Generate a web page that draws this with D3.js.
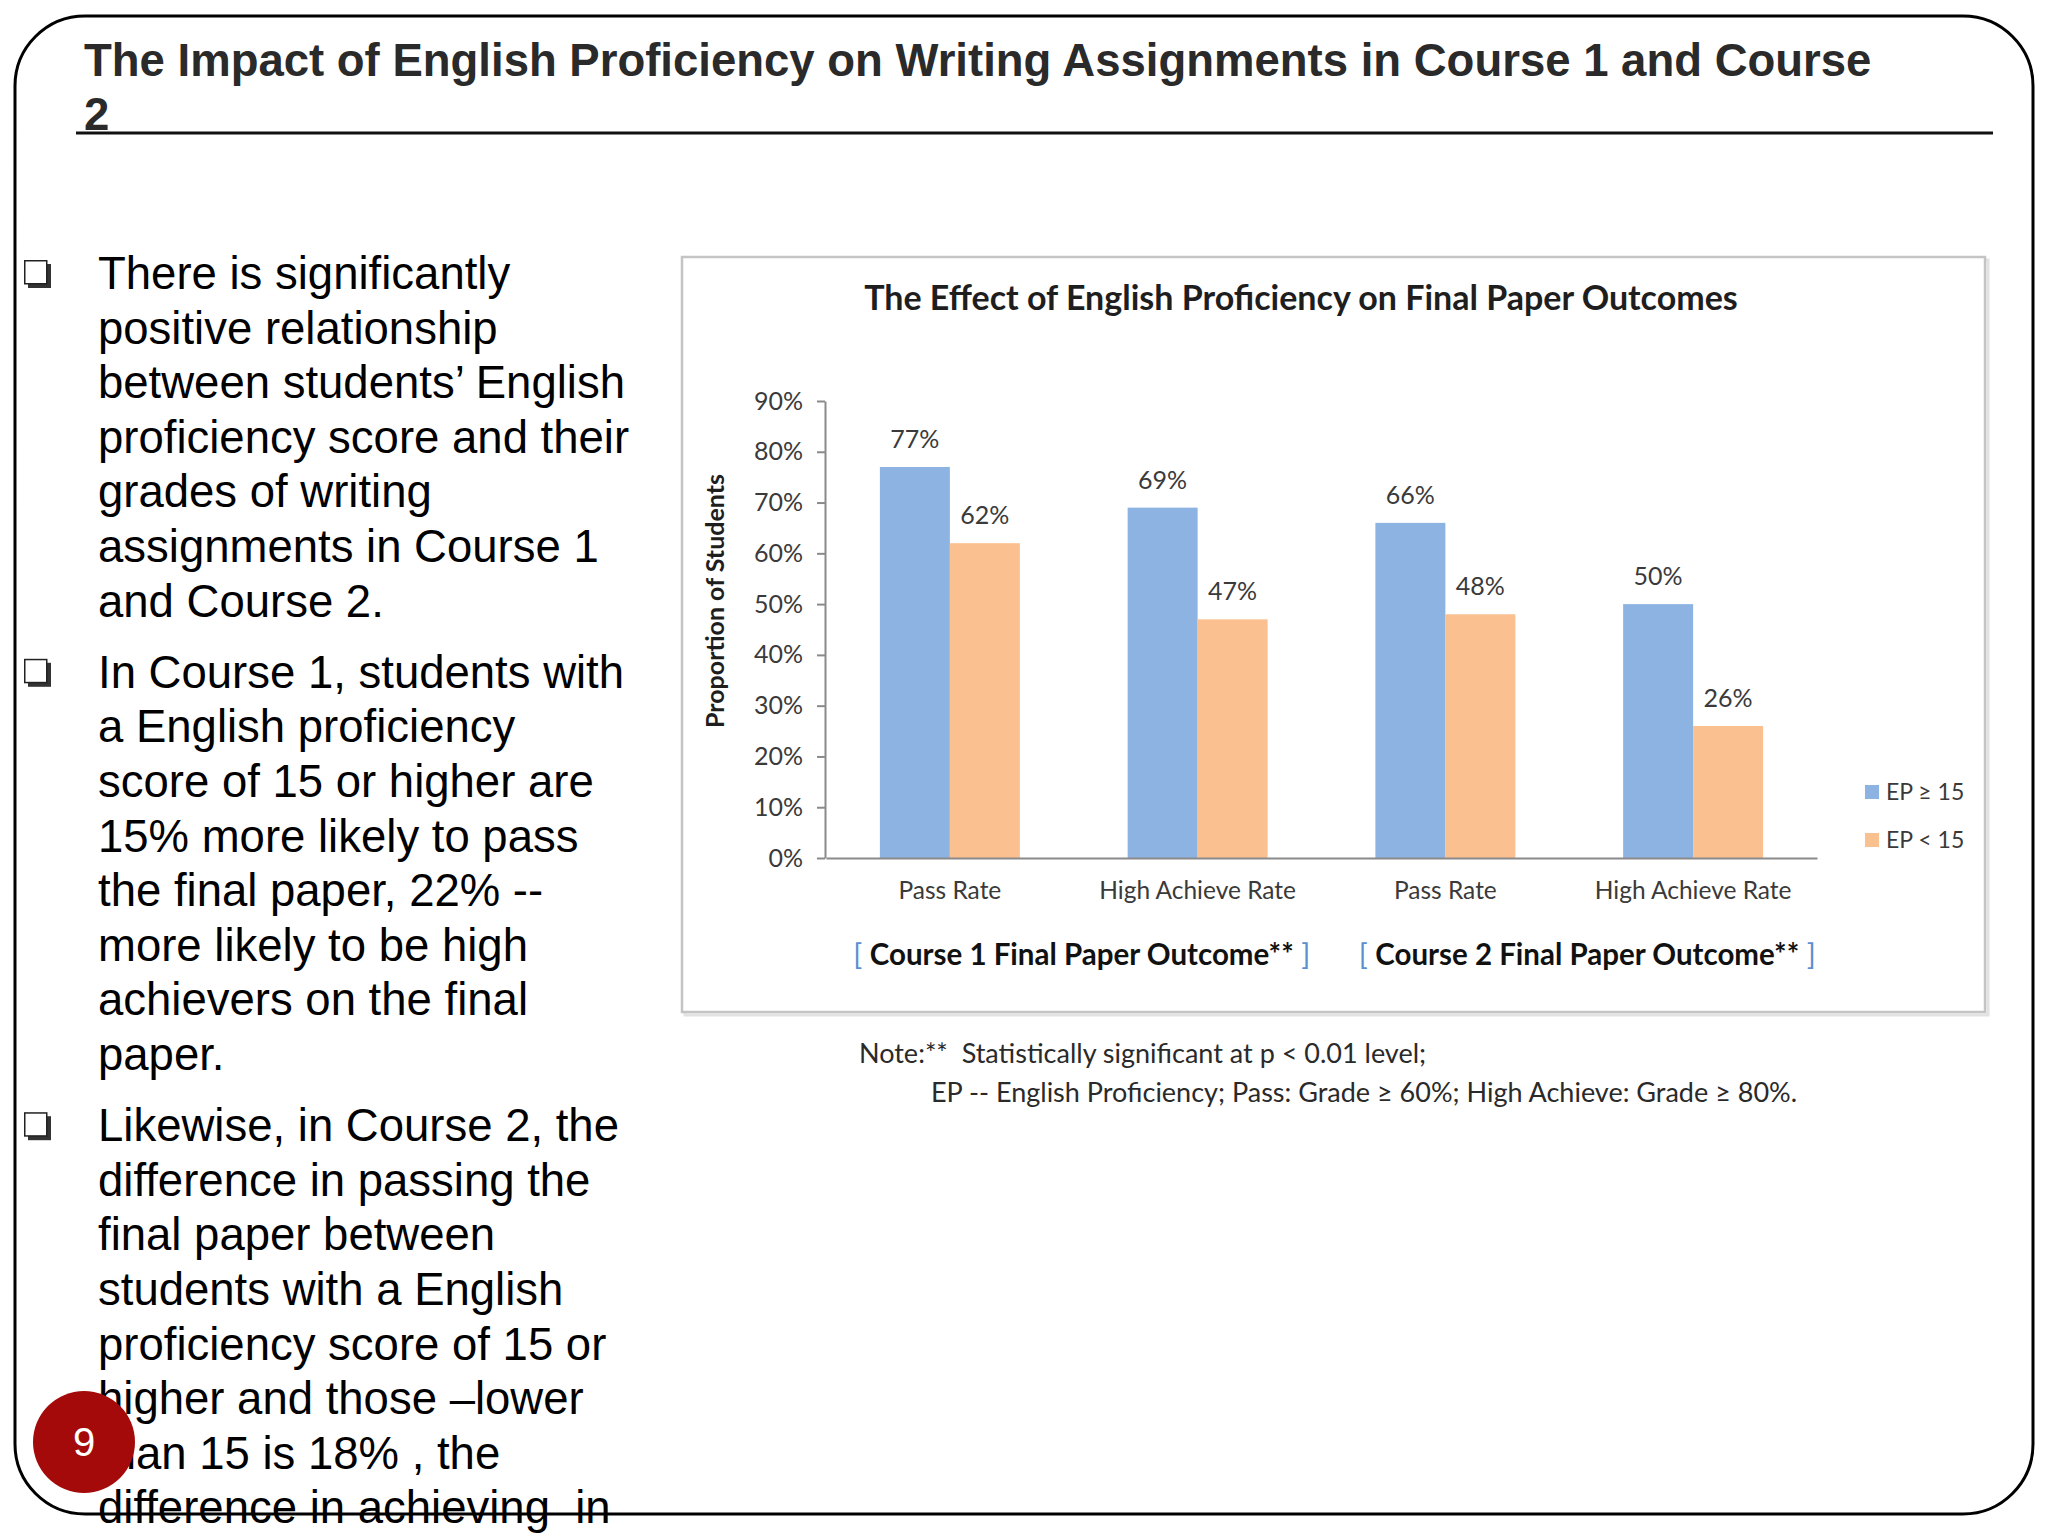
<!DOCTYPE html>
<html>
<head>
<meta charset="utf-8">
<script src="https://cdn.jsdelivr.net/npm/d3@7"></script>
<style>
  body { margin: 0; background: #fff; }
  svg { display: block; }
</style>
</head>
<body>
<svg id="slide" width="2048" height="1536"></svg>
<script>
// ---- data ----
var categories = ['Pass Rate', 'High Achieve Rate', 'Pass Rate', 'High Achieve Rate'];
var courseLabels = ['Course 1 Final Paper Outcome**', 'Course 2 Final Paper Outcome**'];
var seriesNames = ['EP \u2265 15', 'EP < 15'];
var epHigh = [77, 69, 66, 50];
var epLow = [62, 47, 48, 26];
var yTicks = [0, 10, 20, 30, 40, 50, 60, 70, 80, 90];

var slideTitle = ['The Impact of English Proficiency on Writing Assignments in Course 1 and Course', '2'];
var chartTitle = 'The Effect of English Proficiency on Final Paper Outcomes';
var yAxisTitle = 'Proportion of Students';
var noteLines = [
  'Note:** \u00a0Statistically significant at p < 0.01 level;',
  'EP -- English Proficiency; Pass: Grade \u2265 60%; High Achieve: Grade \u2265 80%.'
];
var bullets = [
  ['There is significantly', 'positive relationship', 'between students\u2019 English',
   'proficiency score and their', 'grades of writing', 'assignments in Course 1', 'and Course 2.'],
  ['In Course 1, students with', 'a English proficiency', 'score of 15 or higher are',
   '15% more likely to pass', 'the final paper, 22% --', 'more likely to be high',
   'achievers on the final', 'paper.'],
  ['Likewise, in Course 2, the', 'difference in passing the', 'final paper between',
   'students with a English', 'proficiency score of 15 or', 'higher and those \u2013lower',
   'than 15 is 18% , the', 'difference in achieving \u00a0in']
];
var pageNumber = '9';

var colors = ['#8DB3E2', '#FAC08F'];
var chartFont = 'Lato, "Open Sans", sans-serif';

var svg = d3.select('#slide');

// ---- slide title ----
var titleG = svg.append('g').attr('font-family', '"Liberation Sans", Arial, sans-serif')
  .attr('font-weight', 'bold').attr('font-size', 45.5).attr('fill', '#2a2a2a');
titleG.selectAll('text').data(slideTitle).enter().append('text')
  .attr('x', 84).attr('y', function(d, i) { return 76 + i * 54; })
  .text(function(d) { return d; });
svg.append('line').attr('x1', 76).attr('x2', 1993).attr('y1', 133).attr('y2', 133)
  .attr('stroke', '#111').attr('stroke-width', 3);

// ---- bullet text ----
var lineH = 54.6, paraGap = 16.6;
var bulletG = svg.append('g').attr('font-family', '"Liberation Sans", Arial, sans-serif')
  .attr('font-size', 45.5).attr('fill', '#000');
var baseY = 289;
bullets.forEach(function(para) {
  var b = bulletG.append('g').attr('transform', 'translate(24,' + (baseY - 29) + ')');
  b.append('rect').attr('x', 4).attr('y', 4).attr('width', 23).attr('height', 24).attr('fill', '#333');
  b.append('rect').attr('x', 0.75).attr('y', 0.75).attr('width', 22).attr('height', 23)
    .attr('fill', '#fff').attr('stroke', '#222').attr('stroke-width', 1.5);
  para.forEach(function(line, i) {
    bulletG.append('text').attr('x', 98).attr('y', baseY + i * lineH).text(line);
  });
  baseY += para.length * lineH + paraGap;
});

// ---- chart box ----
svg.append('rect').attr('x', 685).attr('y', 260).attr('width', 1303).attr('height', 755)
  .attr('fill', 'none').attr('stroke', '#e2e2e2').attr('stroke-width', 3);
svg.append('rect').attr('x', 682).attr('y', 257).attr('width', 1303).attr('height', 755)
  .attr('fill', '#fff').attr('stroke', '#c4c4c4').attr('stroke-width', 2.5);

var chart = svg.append('g').attr('font-family', chartFont).attr('fill', '#3a3a3a');

chart.append('text').attr('x', 1301).attr('y', 310).attr('text-anchor', 'middle')
  .attr('font-size', 34).attr('font-weight', 'bold').attr('fill', '#1e1e1e').text(chartTitle);

var x0 = d3.scaleBand().domain(d3.range(categories.length)).range([826, 1817])
  .paddingInner(0.435).paddingOuter(0.2175);
var x1 = d3.scaleBand().domain([0, 1]).range([0, x0.bandwidth()]);
var y = d3.scaleLinear().domain([0, 90]).range([858, 401]);

// y axis
var yAxis = chart.append('g').attr('transform', 'translate(825,0)')
  .call(d3.axisLeft(y).tickValues(yTicks).tickFormat(function(d) { return d + '%'; })
    .tickSizeInner(8).tickSizeOuter(0).tickPadding(14));
yAxis.select('.domain').attr('stroke', '#8a8a8a').attr('stroke-width', 2);
yAxis.selectAll('.tick line').attr('stroke', '#8a8a8a').attr('stroke-width', 2);
yAxis.selectAll('.tick text').attr('font-family', chartFont).attr('font-size', 25)
  .attr('fill', '#3a3a3a');

// bars
var rows = categories.map(function(c, i) { return [epHigh[i], epLow[i]]; });
var groups = chart.selectAll('.grp').data(rows).enter().append('g').attr('class', 'grp')
  .attr('transform', function(d, i) { return 'translate(' + x0(i) + ',0)'; });
groups.selectAll('rect').data(function(d) { return d; }).enter().append('rect')
  .attr('x', function(d, j) { return x1(j); })
  .attr('y', function(d) { return y(d); })
  .attr('width', x1.bandwidth())
  .attr('height', function(d) { return y(0) - y(d); })
  .attr('fill', function(d, j) { return colors[j]; });
groups.selectAll('text').data(function(d) { return d; }).enter().append('text')
  .attr('x', function(d, j) { return x1(j) + x1.bandwidth() / 2; })
  .attr('y', function(d) { return y(d) - 19; })
  .attr('text-anchor', 'middle').attr('font-size', 25).attr('fill', '#3a3a3a')
  .text(function(d) { return d + '%'; });

// x axis
var xAxis = chart.append('g').attr('transform', 'translate(0,' + y(0) + ')')
  .call(d3.axisBottom(x0).tickFormat(function(i) { return categories[i]; })
    .tickSize(0).tickPadding(24));
xAxis.select('.domain').attr('stroke', '#8a8a8a').attr('stroke-width', 2);
xAxis.selectAll('.tick text').attr('font-family', chartFont).attr('font-size', 24.5)
  .attr('fill', '#3a3a3a');

// course group labels
courseLabels.forEach(function(lbl, k) {
  var cx = (x0(2 * k) + x0(2 * k + 1) + x0.bandwidth()) / 2 + 8 + 10 * k;
  var t = chart.append('text').attr('x', cx).attr('y', 965).attr('text-anchor', 'middle')
    .attr('font-size', 29.5).attr('font-weight', 'bold');
  t.append('tspan').attr('fill', '#5b8fd0').attr('font-weight', 'normal').text('[ ');
  t.append('tspan').attr('fill', '#111').text(lbl);
  t.append('tspan').attr('fill', '#5b8fd0').attr('font-weight', 'normal').text(' ]');
});

// y axis title
chart.append('text').attr('transform', 'translate(724,601) rotate(-90)')
  .attr('text-anchor', 'middle').attr('font-size', 25).attr('font-weight', 'bold')
  .attr('fill', '#1e1e1e').text(yAxisTitle);

// legend
var legend = chart.append('g').selectAll('g').data(seriesNames).enter().append('g')
  .attr('transform', function(d, i) { return 'translate(1865,' + (785 + i * 48) + ')'; });
legend.append('rect').attr('width', 14).attr('height', 14)
  .attr('fill', function(d, i) { return colors[i]; });
legend.append('text').attr('x', 21).attr('y', 15).attr('font-size', 23).attr('fill', '#3a3a3a')
  .text(function(d) { return d; });

// notes
chart.selectAll('.note').data(noteLines).enter().append('text').attr('class', 'note')
  .attr('x', function(d, i) { return i === 0 ? 859 : 931; })
  .attr('y', function(d, i) { return 1063 + i * 39; })
  .attr('font-size', 27).attr('fill', '#2a2a2a')
  .text(function(d) { return d; });

// ---- slide frame (drawn over the overflowing text) ----
svg.append('rect').attr('x', 15).attr('y', 16).attr('width', 2018).attr('height', 1498)
  .attr('rx', 70).attr('ry', 70).attr('fill', 'none').attr('stroke', '#000').attr('stroke-width', 3);

// page number badge
svg.append('circle').attr('cx', 84).attr('cy', 1442).attr('r', 51).attr('fill', '#a50a0a');
svg.append('text').attr('x', 84).attr('y', 1456).attr('text-anchor', 'middle')
  .attr('font-family', '"Liberation Sans", Arial, sans-serif').attr('font-size', 40)
  .attr('fill', '#fff').text(pageNumber);
</script>
</body>
</html>
